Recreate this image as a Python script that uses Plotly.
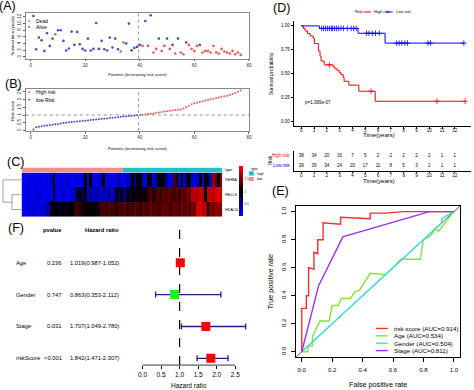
import plotly.graph_objects as go

W, H = 474, 390
def fx(v): return v / W
def fy(v): return 1 - v / H

FONT = "Liberation Sans, Arial, Helvetica, sans-serif"
RED = "#E65B58"
BLUE = "#4A4AC8"

# ---------------- Panel A / B data ----------------
patients = list(range(1, 78))
survival_time = [12.3, 2.3, 5.8, 5.0, 1.8, 7.1, 3.3, 5.5, 6.8, 8.0,
                 8.0, 4.8, 1.9, 2.5, 7.6, 3.6, 7.5, 3.8, 2.4, 1.9,
                 5.5, 1.9, 2.4, 10.2, 2.4, 4.8, 2.3, 1.9, 5.8, 2.8,
                 5.5, 2.3, 1.6, 4.3, 4.0, 10.0, 2.0, 2.7, 3.0,
                 3.6, 3.3, 10.8, 3.3, 12.5, 1.3, 2.4, 5.5, 1.8, 3.3,
                 5.5, 2.4, 3.6, 1.0, 5.5, 1.3, 0.8, 4.3, 3.6, 2.4,
                 1.8, 3.3, 3.6, 1.3, 1.8, 1.8, 1.3, 3.3, 1.3, 1.0,
                 2.4, 1.6, 1.3, 1.0, 1.8, 0.8, 1.3, 0.6]
survival_status = [0, 0, 0, 0, 0, 0, 0, 0, 1, 0,
                   0, 0, 0, 0, 0, 0, 0, 0, 0, 0,
                   0, 0, 0, 0, 0, 0, 0, 0, 0, 0,
                   0, 0, 1, 1, 0, 0, 0, 0, 0,
                   0, 1, 0, 1, 0, 1, 1, 0, 1, 1,
                   0, 1, 0, 1, 0, 1, 1, 0, 1, 1,
                   1, 1, 0, 1, 1, 1, 1, 1, 1, 1,
                   1, 1, 1, 1, 1, 1, 1, 1]
risk_low = [0.05, 0.2, 0.24, 0.27, 0.3, 0.32, 0.35, 0.37, 0.4, 0.42,
            0.45, 0.48, 0.5, 0.53, 0.55, 0.57, 0.58, 0.6, 0.62, 0.63,
            0.65, 0.67, 0.69, 0.71, 0.73, 0.75, 0.76, 0.78, 0.8, 0.82,
            0.84, 0.86, 0.88, 0.9, 0.92, 0.94, 0.95, 0.97, 0.98]
risk_high = [1.0, 1.02, 1.04, 1.06, 1.08, 1.1, 1.13, 1.16, 1.2, 1.23,
             1.25, 1.27, 1.3, 1.32, 1.34, 1.36, 1.42, 1.5, 1.6, 1.7,
             1.76, 1.8, 1.85, 1.9, 1.94, 1.98, 2.02, 2.06, 2.1, 2.14,
             2.18, 2.22, 2.26, 2.3, 2.36, 2.43, 2.52, 2.6]
risk_cutoff = 1.0
a_xticks = [0, 20, 40, 60, 80]
a_yticks = [0, 2, 4, 6, 8, 10, 12]
b_yticks = [0, 0.5, 1, 1.5, 2, 2.5]

# ---------------- Panel C data ----------------
genes = ["INHBA", "HELLS", "HDAC4"]
expr_inhba = [0.08, 0.05, 0.15, 0.08, 0.02, 0.2, 0.08, 0.12, 0.05, 0.15, 0.08, 0.25,
              0.95,
              0.08, 0.15, 0.05, 0.12, 0.2, 0.08, 0.02, 0.12, 0.15, 0.08, 0.25,
              0.9, 0.15, 1.0, 0.12, 0.08, 0.2, 0.25, 0.9,
              0.12, 0.15, 0.08, 0.2, 0.12, 0.3, 0.08, 0.15, 0.25, 0.35,
              0.95, 0.4, 1.0, 0.9, 0.25, 0.15, 1.0, 0.95, 0.2, 0.35,
              0.9, 1.0, 0.95, 0.45, 0.15, 0.12, 1.25, 1.15, 0.25, 0.95, 0.2,
              1.0, 0.9, 0.15, 0.12, 0.2, 1.0, 0.15, 1.0, 0.95, 0.25,
              1.6, 1.4, 1.0, 1.5]
expr_hells = [0.08, 0.12, 0.05, 0.15, 0.08, 0.12, 0.2, 0.08, 0.05, 0.12, 0.15, 0.08,
              0.9,
              0.12, 0.08, 0.2, 0.15, 0.08, 0.12, 0.25, 0.35,
              0.8, 0.9, 0.7, 0.95,
              0.25, 0.35, 0.2, 0.45, 0.3, 0.15, 0.35, 0.25, 0.45, 0.2, 0.35,
              0.9, 0.7, 1.0, 0.45, 0.95,
              0.8, 1.0, 0.9, 1.05, 0.95, 1.1, 1.0,
              1.2, 1.3, 1.15, 1.25, 1.3, 1.2, 1.35, 1.3, 1.4, 1.3,
              1.25, 1.35, 1.2, 1.4, 1.3, 1.45, 1.35,
              1.7, 1.75, 1.65, 1.8, 1.7,
              1.0,
              1.75, 1.8, 1.7, 1.85, 1.9, 1.8]
expr_hdac4 = [0.08, 0.12, 0.15, 0.08, 0.2, 0.12, 0.08, 0.25, 0.15, 0.3, 0.35,
              0.9, 0.95, 1.0, 0.85, 1.0, 0.9, 1.05, 0.95, 1.0,
              1.2, 1.25, 1.15, 1.1,
              1.0, 0.95, 1.05, 1.0, 0.9, 1.1,
              1.25, 1.3, 1.2, 1.35, 1.25, 1.3, 1.15, 1.3, 1.25, 1.35,
              1.2, 1.3, 1.25, 1.4, 1.3, 1.2, 1.35, 1.3, 1.25, 1.4,
              1.3, 1.35, 1.25, 1.3, 1.4, 1.35, 1.3, 1.25, 1.4, 1.35,
              1.3, 1.45, 1.35, 1.4, 1.3, 1.45, 1.4,
              1.8, 1.85, 1.75, 1.7,
              1.0,
              1.5, 1.45, 1.6, 1.55, 1.5]
type_groups = ["low"] * len(risk_low) + ["high"] * len(risk_high)
heat_ticks = [0.5, 1, 1.5]

# ---------------- Panel D data ----------------
km_high_time = [0, 0.18, 0.31, 0.49, 0.70, 0.95, 1.03, 1.34, 1.47, 1.55, 1.80,
                2.50, 2.63, 2.81, 2.97, 3.10, 3.28, 3.35, 3.72, 4.50, 5.78, 12.8]
km_high_surv = [1.0, 0.974, 0.947, 0.921, 0.895, 0.868, 0.816, 0.737, 0.684, 0.632, 0.592,
                0.572, 0.552, 0.532, 0.512, 0.49, 0.463, 0.42, 0.38, 0.316, 0.211, 0.211]
km_high_cens = [2.2, 5.45, 10.6, 12.8]
km_low_time = [0, 1.42, 4.44, 6.55, 12.75]
km_low_surv = [1.0, 0.974, 0.923, 0.82, 0.82]
km_low_cens = [1.6, 1.75, 1.9, 2.05, 2.2, 2.35, 2.45, 2.6, 2.75, 2.9, 3.1, 3.3, 3.6,
               3.9, 4.1, 4.3, 5.1, 5.3, 5.55, 5.8, 6.1, 7.45, 7.65, 7.85, 8.1, 8.3,
               9.9, 10.1, 12.7]
km_pvalue = "p=1.365e-07"
table_times = list(range(13))
at_risk_high = [38, 34, 20, 16, 7, 5, 2, 2, 2, 2, 2, 1, 1]
at_risk_low = [39, 39, 34, 24, 20, 17, 11, 8, 5, 3, 2, 1, 1]

# ---------------- Panel E data ----------------
roc_risk_fpr = [0, 0, 0.03, 0.03, 0.045, 0.045, 0.08, 0.08, 0.105, 0.105, 0.14, 0.14,
                0.255, 0.255, 0.45, 0.45, 0.55, 0.67, 1.0]
roc_risk_tpr = [0, 0.31, 0.31, 0.40, 0.40, 0.60, 0.59, 0.71, 0.70, 0.80, 0.80, 0.92,
                0.91, 0.96, 0.95, 0.99, 0.99, 1.0, 1.0]
roc_age_fpr = [0, 0.04, 0.04, 0.07, 0.07, 0.11, 0.12, 0.18, 0.20, 0.24, 0.26, 0.32, 0.35,
               0.38, 0.45, 0.55, 0.60, 0.65, 0.78, 0.79, 0.80, 0.85, 0.88, 0.90, 0.95, 0.97, 1.0]
roc_age_tpr = [0, 0, 0.04, 0.04, 0.11, 0.19, 0.22, 0.22, 0.33, 0.33, 0.38, 0.38, 0.43,
               0.44, 0.56, 0.55, 0.60, 0.66, 0.66, 0.73, 0.80, 0.83, 0.88, 0.86, 0.93, 0.96, 1.0]
roc_gender_fpr = [0, 0.5, 0.92, 0.92, 1.0]
roc_gender_tpr = [0, 0.5, 0.92, 0.95, 1.0]
roc_stage_fpr = [0, 0.11, 0.27, 0.84, 1.0]
roc_stage_tpr = [0, 0.47, 0.82, 1.0, 1.0]
roc_names = ["risk score", "Age", "Gender", "Stage"]
roc_auc = [0.914, 0.534, 0.504, 0.811]
roc_colors = ["#F0302C", "#86E33A", "#3FDCDC", "#9A32F0"]
e_ticks = [0, 0.2, 0.4, 0.6, 0.8, 1.0]

# ---------------- Panel F data ----------------
forest_vars = ["Age", "Gender", "Stage", "riskScore"]
forest_p = ["0.236", "0.747", "0.031", "<0.001"]
forest_hr = [1.019, 0.863, 1.707, 1.842]
forest_lo = [0.987, 0.353, 1.049, 1.471]
forest_hi = [1.052, 2.112, 2.780, 2.307]
f_ticks = [0, 0.5, 1.0, 1.5, 2.0, 2.5]

for arr in (survival_time, survival_status, expr_inhba, expr_hells, expr_hdac4, type_groups):
    assert len(arr) == 77, len(arr)

fig = go.Figure()
annotations = []
shapes = []

def txt(x, y, s, size, xanchor="center", color="black", angle=0, xref="paper", yref="paper", yanchor="middle"):
    annotations.append(dict(
        x=fx(x) if xref == "paper" else x, y=fy(y) if yref == "paper" else y,
        xref=xref, yref=yref, text=s, showarrow=False, textangle=angle,
        xanchor=xanchor, yanchor=yanchor, font=dict(size=size, color=color, family=FONT)))

def pline(x0, y0, x1, y1, color="black", width=1, dash="solid"):
    shapes.append(dict(type="line", xref="paper", yref="paper", x0=fx(x0), y0=fy(y0),
                       x1=fx(x1), y1=fy(y1), line=dict(color=color, width=width, dash=dash)))

# ---------------- Panel A ----------------
dead = [i for i, s in enumerate(survival_status) if s == 1]
alive = [i for i, s in enumerate(survival_status) if s == 0]
fig.add_trace(go.Scatter(x=[patients[i] for i in dead], y=[survival_time[i] for i in dead],
                         mode="markers", marker=dict(color=RED, size=2.6), xaxis="x", yaxis="y"))
fig.add_trace(go.Scatter(x=[patients[i] for i in alive], y=[survival_time[i] for i in alive],
                         mode="markers", marker=dict(color=BLUE, size=2.6), xaxis="x", yaxis="y"))
split = len(risk_low) + 0.5
shapes.append(dict(type="line", xref="x", yref="y domain", x0=split, x1=split, y0=0, y1=1,
                   line=dict(color="#777", width=0.8, dash="dot")))

# ---------------- Panel B ----------------
fig.add_trace(go.Scatter(x=patients[len(risk_low):], y=risk_high, mode="markers",
                         marker=dict(color=RED, size=2), xaxis="x2", yaxis="y2"))
fig.add_trace(go.Scatter(x=patients[:len(risk_low)], y=risk_low, mode="markers",
                         marker=dict(color=BLUE, size=2), xaxis="x2", yaxis="y2"))
shapes.append(dict(type="line", xref="x2", yref="y2 domain", x0=split, x1=split, y0=0, y1=1,
                   line=dict(color="#777", width=0.8, dash="dot")))
shapes.append(dict(type="line", xref="x2 domain", yref="y2", x0=0, x1=1, y0=risk_cutoff, y1=risk_cutoff,
                   line=dict(color="#777", width=0.8, dash="dot")))

# legends A and B
for (yy, col, lab) in [(20, RED, "Dead"), (26, BLUE, "Alive"), (91.5, RED, "High risk"), (99, BLUE, "low Risk")]:
    shapes.append(dict(type="circle", xref="paper", yref="paper", x0=fx(27.5), x1=fx(29.3),
                       y0=fy(yy + 0.9), y1=fy(yy - 0.9), fillcolor=col, line=dict(width=0)))
    txt(33, yy, lab, 5, xanchor="left")

# ---------------- Panel C ----------------
fig.add_trace(go.Heatmap(z=[expr_hdac4, expr_hells, expr_inhba], x=patients, y=[0, 1, 2],
                         xaxis="x3", yaxis="y3", zmin=0, zmax=2,
                         colorscale=[[0, "#0000FF"], [0.5, "#000000"], [1, "#FF0000"]],
                         colorbar=dict(x=fx(240), xanchor="left", y=fy(216), yanchor="bottom",
                                       len=50 / H, lenmode="fraction", thickness=4, outlinewidth=0,
                                       xpad=0, ypad=0, tickvals=heat_ticks, ticktext=["0.5", "1", "1.5"],
                                       ticks="", tickfont=dict(size=3.5, family=FONT))))
TYPE_COL = {"low": "#F0908A", "high": "#22C0C8"}
fig.add_trace(go.Heatmap(z=[[0 if g == "low" else 1 for g in type_groups]], x=patients, y=[0],
                         xaxis="x4", yaxis="y4", zmin=0, zmax=1, showscale=False,
                         colorscale=[[0, TYPE_COL["low"]], [0.5, TYPE_COL["low"]],
                                     [0.5, TYPE_COL["high"]], [1, TYPE_COL["high"]]]))
# dendrogram
rc = [179.3, 194.2, 209.1]
dg = "#888"
pline(2, rc[0], 20.7, rc[0], dg, 0.8)
pline(11, rc[1], 20.7, rc[1], dg, 0.8)
pline(11, rc[2], 20.7, rc[2], dg, 0.8)
pline(11, rc[1], 11, rc[2], dg, 0.8)
pline(2, (rc[1] + rc[2]) / 2, 11, (rc[1] + rc[2]) / 2, dg, 0.8)
pline(2, rc[0], 2, (rc[1] + rc[2]) / 2, dg, 0.8)
# type legend
txt(250, 168, "type", 3.5, xanchor="left")
shapes.append(dict(type="rect", xref="paper", yref="paper", x0=fx(250), x1=fx(255), y0=fy(175), y1=fy(170.8),
                   fillcolor=TYPE_COL["high"], line=dict(width=0)))
shapes.append(dict(type="rect", xref="paper", yref="paper", x0=fx(250), x1=fx(255), y0=fy(180.5), y1=fy(176.3),
                   fillcolor=TYPE_COL["low"], line=dict(width=0)))
txt(256.5, 173, "high", 3.5, xanchor="left")
txt(256.5, 178.5, "low", 3.5, xanchor="left")

# ---------------- Panel D ----------------
fig.add_trace(go.Scatter(x=km_high_time, y=km_high_surv, mode="lines", line=dict(color="red", width=1, shape="hv"),
                         xaxis="x5", yaxis="y5"))
fig.add_trace(go.Scatter(x=km_low_time, y=km_low_surv, mode="lines", line=dict(color="blue", width=1, shape="hv"),
                         xaxis="x5", yaxis="y5"))

def step_at(ts, ss, t):
    v = ss[0]
    for ti, si in zip(ts, ss):
        if ti <= t:
            v = si
    return v

fig.add_trace(go.Scatter(x=km_high_cens, y=[step_at(km_high_time, km_high_surv, t) for t in km_high_cens],
                         mode="markers", marker=dict(symbol="cross-thin", size=4, line=dict(color="red", width=0.8)),
                         xaxis="x5", yaxis="y5"))
fig.add_trace(go.Scatter(x=km_low_cens, y=[step_at(km_low_time, km_low_surv, t) for t in km_low_cens],
                         mode="markers", marker=dict(symbol="cross-thin", size=4, line=dict(color="blue", width=0.8)),
                         xaxis="x5", yaxis="y5"))
txt(305, 101.7, km_pvalue, 4.5, xanchor="left")
# D legend
txt(355, 11, "Risk", 4, xanchor="left")
pline(366, 11, 373, 11, "red", 1)
txt(374, 11, "High risk", 4, xanchor="left")
pline(388, 11, 395, 11, "blue", 1)
txt(396, 11, "Low risk", 4, xanchor="left")
# risk table
fig.add_trace(go.Scatter(x=table_times, y=[1.5] * len(table_times), text=[str(v) for v in at_risk_high],
                         mode="text", textfont=dict(size=4.5, family=FONT, color="black"), xaxis="x6", yaxis="y6"))
fig.add_trace(go.Scatter(x=table_times, y=[0.5] * len(table_times), text=[str(v) for v in at_risk_low],
                         mode="text", textfont=dict(size=4.5, family=FONT, color="black"), xaxis="x6", yaxis="y6"))
txt(293, 155, "High risk", 4.5, xanchor="right", color="red")
txt(293, 165, "Low risk", 4.5, xanchor="right", color="blue")
txt(271, 160, "Risk", 5, angle=-90)

# ---------------- Panel E ----------------
fig.add_trace(go.Scatter(x=[-0.04, 1.04], y=[-0.04, 1.04], mode="lines", line=dict(color="#555", width=1),
                         xaxis="x7", yaxis="y7"))
roc_series = [(roc_risk_fpr, roc_risk_tpr), (roc_age_fpr, roc_age_tpr),
              (roc_gender_fpr, roc_gender_tpr), (roc_stage_fpr, roc_stage_tpr)]
for (fp, tp), col in zip(roc_series, roc_colors):
    fig.add_trace(go.Scatter(x=fp, y=tp, mode="lines", line=dict(color=col, width=1.4),
                             xaxis="x7", yaxis="y7"))
for k, (nm, auc, col) in enumerate(zip(roc_names, roc_auc, roc_colors)):
    yy = 328.3 + k * 7.4
    pline(378, yy, 390, yy, col, 1.4)
    txt(394, yy, f"{nm} (AUC={auc:.3f})", 6.2, xanchor="left")

# ---------------- Panel F ----------------
rows = [len(forest_vars) - i for i in range(len(forest_vars))]
fig.add_trace(go.Scatter(
    x=forest_hr, y=rows, mode="markers",
    marker=dict(symbol="square", size=9, color=["#FF0000" if h > 1 else "#22EE22" for h in forest_hr],
                line=dict(width=0)),
    error_x=dict(type="data", symmetric=False,
                 array=[h - m for h, m in zip(forest_hi, forest_hr)],
                 arrayminus=[m - l for m, l in zip(forest_hr, forest_lo)],
                 color="#1C1C8F", thickness=1.3, width=3),
    xaxis="x8", yaxis="y8"))
shapes.append(dict(type="line", xref="x8", yref="y8 domain", x0=1, x1=1, y0=0, y1=1,
                   line=dict(color="black", width=1.2, dash="dash"), layer="below"))
shapes.append(dict(type="line", xref="x8", yref="y8 domain", x0=f_ticks[0], x1=f_ticks[-1], y0=0, y1=0,
                   line=dict(color="black", width=0.8)))
for nm, p, h, lo, hi, r in zip(forest_vars, forest_p, forest_hr, forest_lo, forest_hi, rows):
    txt(13.3, r, nm, 5.8, xanchor="left", yref="y8")
    txt(64, r, p, 5.8, xanchor="right", yref="y8")
    txt(121, r, f"{h:.3f}({lo:.3f}-{hi:.3f})", 5.8, xanchor="right", yref="y8")
txt(64, 5.03, "<b>pvalue</b>", 5.8, xanchor="right", yref="y8")
txt(121, 5.03, "<b>Hazard ratio</b>", 5.8, xanchor="right", yref="y8")

# ---------------- titles / labels ----------------
txt(137.5, 74, "Patients (increasing risk score)", 4.3)
txt(11.7, 35, "Survival time (years)", 4.3, angle=-90)
txt(137.5, 147.7, "Patients (increasing risk score)", 4.3)
txt(11.7, 109.5, "Risk score", 4.3, angle=-90)
txt(271.7, 73, "Survival probability", 5.1, angle=-90)
txt(381, 134.3, "Time(years)", 6)
txt(381, 180.5, "Time(years)", 6)
txt(380, 384, "False positive rate", 7.2)
txt(271.7, 281.5, "True positive rate", 7.2, angle=-90)
txt(190, 385.5, "Hazard ratio", 6.5)
for lab, x, y in [("(A)", 6.5, 5), ("(B)", 12.5, 83), ("(C)", 14.5, 161), ("(D)", 282.5, 7.5),
                  ("(E)", 281.5, 190), ("(F)", 15.5, 228)]:
    txt(x, y, lab, 12.5)

# ---------------- axes ----------------
def xdom(a, b): return [fx(a), fx(b)]
def ydom(top, bottom): return [fy(bottom), fy(top)]

base_box = dict(showline=True, mirror=True, linecolor="#888", linewidth=0.8, ticks="outside",
                ticklen=2, tickwidth=0.6, tickcolor="#666", showgrid=False, zeroline=False,
                tickfont=dict(size=4.5, family=FONT, color="#333"))
d_ax = dict(showline=True, mirror=False, linecolor="black", linewidth=0.8, ticks="outside",
            ticklen=2, tickwidth=0.6, tickcolor="black", showgrid=False, zeroline=False,
            tickfont=dict(size=4.5, family=FONT, color="black"))
e_ax = dict(showline=True, mirror=True, linecolor="black", linewidth=0.8, ticks="outside",
            ticklen=4, tickwidth=0.8, tickcolor="black", showgrid=False, zeroline=False,
            tickfont=dict(size=6, family=FONT, color="black"), tickvals=e_ticks,
            ticktext=[f"{v:.1f}" for v in e_ticks])
hidden = dict(visible=False, showgrid=False, zeroline=False)

fig.update_layout(
    width=W, height=H, margin=dict(l=0, r=0, t=0, b=0), showlegend=False,
    paper_bgcolor="white", plot_bgcolor="white", font=dict(family=FONT),
    xaxis=dict(domain=xdom(25, 250), range=[-1.8, 80], tickvals=a_xticks, anchor="y", **base_box),
    yaxis=dict(domain=ydom(12.3, 57.7), range=[-0.5, 13.1], tickvals=a_yticks, tickangle=-90, anchor="x", **base_box),
    xaxis2=dict(domain=xdom(25, 250), range=[-1.8, 80], tickvals=a_xticks, anchor="y2", **base_box),
    yaxis2=dict(domain=ydom(88.1, 130.5), range=[-0.05, 2.7], tickvals=b_yticks, tickangle=-90, anchor="x2", **base_box),
    xaxis3=dict(domain=xdom(20.7, 223), range=[0.5, 77.5], anchor="y3", **hidden),
    yaxis3=dict(domain=ydom(172, 216.5), range=[-0.5, 2.5], anchor="x3", side="right", showline=False,
                showgrid=False, zeroline=False, ticks="", tickvals=[0, 1, 2], ticktext=genes[::-1],
                tickfont=dict(size=3.8, family=FONT, color="black"), ticklabelstandoff=2),
    xaxis4=dict(domain=xdom(20.7, 223), range=[0.5, 77.5], anchor="y4", **hidden),
    yaxis4=dict(domain=ydom(167, 172), range=[-0.5, 0.5], anchor="x4", side="right", showline=False,
                showgrid=False, zeroline=False, ticks="", tickvals=[0], ticktext=["type"],
                tickfont=dict(size=3.8, family=FONT, color="black"), ticklabelstandoff=2),
    xaxis5=dict(domain=xdom(295, 474), range=[-0.6, 13.26], tickvals=table_times, anchor="y5",
                ticklabelstandoff=-2, **d_ax),
    yaxis5=dict(domain=ydom(20.2, 125.5), range=[-0.05, 1.05], tickvals=[0, 0.25, 0.5, 0.75, 1.0],
                ticktext=["0.00", "0.25", "0.50", "0.75", "1.00"], anchor="x5", **d_ax),
    xaxis6=dict(domain=xdom(295, 474), range=[-0.6, 13.26], tickvals=table_times, anchor="y6",
                ticklabelstandoff=-2, **d_ax),
    yaxis6=dict(domain=ydom(150, 170), range=[0, 2], anchor="x6", showticklabels=False,
                **{k: v for k, v in d_ax.items() if k != "ticks"}, ticks=""),
    xaxis7=dict(domain=xdom(297.2, 462.8), range=[-0.04, 1.04], anchor="y7", ticklabelstandoff=3, **e_ax),
    yaxis7=dict(domain=ydom(205.6, 357.3), range=[-0.04, 1.04], anchor="x7", tickangle=-90, ticklabelstandoff=2, **e_ax),
    xaxis8=dict(domain=xdom(138.96, 251.2), range=[-0.1, 2.9], anchor="y8", showline=False, showgrid=False,
                zeroline=False, ticks="outside", ticklen=3, tickwidth=0.8, tickcolor="black", tickvals=f_ticks,
                ticktext=[f"{v:.1f}" for v in f_ticks], tickfont=dict(size=6.5, family=FONT, color="black")),
    yaxis8=dict(domain=ydom(225, 365), range=[0.79, 5.17], anchor="x8", **hidden),
    annotations=annotations, shapes=shapes,
)

fig.write_html("out.html", config={"displayModeBar": False},
               post_script="document.body.style.margin='0px';document.body.style.padding='0px';")
